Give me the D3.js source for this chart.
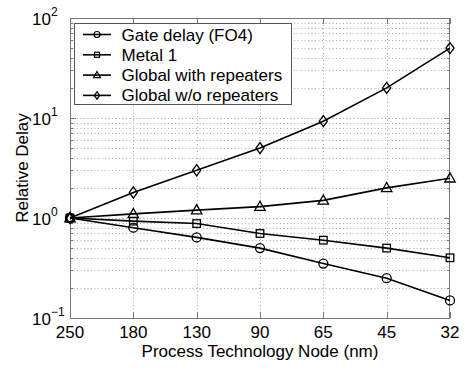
<!DOCTYPE html>
<html>
<head>
<meta charset="utf-8">
<script src="https://cdn.jsdelivr.net/npm/d3@7"></script>
<style>
body { margin: 0; background: #fff; }
text { font-family: "Liberation Sans", Arial, Helvetica, sans-serif; fill: #000; }
</style>
</head>
<body>
<svg id="chart" width="474" height="374"></svg>
<script>
// 工艺节点（横轴类别）
var nodes = ["250", "180", "130", "90", "65", "45", "32"];
// 各条曲线的相对延迟
var gateDelay = [1, 0.8, 0.64, 0.5, 0.35, 0.25, 0.15];
var metal1 = [1, 0.93, 0.88, 0.7, 0.6, 0.5, 0.4];
var globalRep = [1, 1.1, 1.2, 1.3, 1.5, 2.0, 2.5];
var globalNoRep = [1, 1.8, 3.0, 5.0, 9.3, 20, 50];
var seriesNames = ["Gate delay (FO4)", "Metal 1", "Global with repeaters", "Global w/o repeaters"];
var seriesMarks = ["circle", "square", "triangle", "diamond"];
var yTickExps = [-1, 0, 1, 2];

var series = [gateDelay, metal1, globalRep, globalNoRep];

var svg = d3.select("#chart");
var pLeft = 70, pRight = 450, pTop = 18, pBottom = 318;

var x = d3.scalePoint().domain(nodes).range([pLeft, pRight]);
var y = d3.scaleLog().domain([0.1, 100]).range([pBottom, pTop]);

// 网格线（虚点）
var minorVals = [];
for (var e = -1; e < 2; e++) {
	for (var k = 1; k <= 10; k++) {
		var v = k * Math.pow(10, e);
		if (v > 0.1 && v < 100) minorVals.push(v);
	}
}
var grid = svg.append("g").attr("stroke", "#aaa").attr("stroke-width", 1)
	.attr("stroke-dasharray", "1,2.5");
grid.selectAll(".hg").data(minorVals).enter().append("line")
	.attr("x1", pLeft).attr("x2", pRight)
	.attr("y1", function (d) { return Math.round(y(d)) + 0.5; })
	.attr("y2", function (d) { return Math.round(y(d)) + 0.5; });
grid.selectAll(".vg").data(nodes.slice(1, nodes.length - 1)).enter().append("line")
	.attr("y1", pTop).attr("y2", pBottom)
	.attr("x1", function (d) { return Math.round(x(d)) + 0.5; })
	.attr("x2", function (d) { return Math.round(x(d)) + 0.5; });

// 边框与刻度
var axisColor = "#777";
var frame = svg.append("g").attr("stroke", axisColor).attr("stroke-width", 1);
frame.append("rect").attr("x", pLeft + 0.5).attr("y", pTop + 0.5)
	.attr("width", pRight - pLeft - 1).attr("height", pBottom - pTop)
	.attr("fill", "none");
var tickY = minorVals.concat([0.1, 100]);
frame.selectAll(".ty").data(tickY).enter().append("path")
	.attr("d", function (d) {
		var len = (Math.abs(Math.log10(d) - Math.round(Math.log10(d))) < 1e-9) ? 6 : 3;
		var yy = Math.round(y(d)) + 0.5;
		return "M" + pLeft + "," + yy + "h" + len + "M" + pRight + "," + yy + "h" + (-len);
	});
frame.selectAll(".tx").data(nodes).enter().append("path")
	.attr("d", function (d) {
		var xx = Math.round(x(d)) + 0.5;
		return "M" + xx + "," + pBottom + "v-6M" + xx + "," + pTop + "v6";
	});

// 纵轴刻度标签 10^n
var yl = svg.append("g");
yTickExps.forEach(function (p) {
	var yy = y(Math.pow(10, p));
	yl.append("text").attr("x", 51).attr("y", yy + 7)
		.attr("text-anchor", "end").attr("font-size", 17).text("10");
	yl.append("text").attr("x", 51).attr("y", yy - 2)
		.attr("font-size", 12).text(String(p).replace("-", "\u2212"));
});

// 横轴刻度标签
svg.append("g").selectAll("text").data(nodes).enter().append("text")
	.attr("x", function (d) { return x(d); })
	.attr("y", 337.5)
	.attr("text-anchor", "middle").attr("font-size", 17)
	.text(function (d) { return d; });

// 坐标轴标题
svg.append("text").attr("x", 260).attr("y", 357)
	.attr("text-anchor", "middle").attr("font-size", 17)
	.text("Process Technology Node (nm)");
svg.append("text").attr("transform", "translate(28,168) rotate(-90)")
	.attr("text-anchor", "middle").attr("font-size", 17)
	.text("Relative Delay");

// 标记符号
function drawMarker(g, type, cx, cy, s) {
	if (type == "circle") {
		g.append("circle").attr("cx", cx).attr("cy", cy).attr("r", s * 0.5);
	} else if (type == "square") {
		g.append("rect").attr("x", cx - s * 0.42).attr("y", cy - s * 0.42)
			.attr("width", s * 0.84).attr("height", s * 0.84);
	} else if (type == "triangle") {
		g.append("path").attr("d", "M" + cx + "," + (cy - s * 0.6) + "L" + (cx + s * 0.58) + "," + (cy + s * 0.42)
			+ "L" + (cx - s * 0.58) + "," + (cy + s * 0.42) + "Z");
	} else {
		g.append("path").attr("d", "M" + cx + "," + (cy - s * 0.62) + "L" + (cx + s * 0.45) + "," + cy
			+ "L" + cx + "," + (cy + s * 0.62) + "L" + (cx - s * 0.45) + "," + cy + "Z");
	}
}

// 曲线
var line = d3.line()
	.x(function (d, i) { return x(nodes[i]); })
	.y(function (d) { return y(d); });
var plot = svg.append("g");
series.forEach(function (s, si) {
	plot.append("path").datum(s).attr("d", line)
		.attr("fill", "none").attr("stroke", "#000").attr("stroke-width", 1.6);
	var mg = plot.append("g").attr("fill", "none").attr("stroke", "#000").attr("stroke-width", 1.3);
	s.forEach(function (v, i) {
		drawMarker(mg, seriesMarks[si], x(nodes[i]), y(v), 9);
	});
});

// 图例
var lg = svg.append("g");
lg.append("rect").attr("x", 74.5).attr("y", 23.5).attr("width", 217).attr("height", 81)
	.attr("fill", "#fff").attr("stroke", "#555").attr("stroke-width", 1);
seriesNames.forEach(function (name, i) {
	var ly = 34.5 + i * 20.3;
	lg.append("line").attr("x1", 83).attr("x2", 111).attr("y1", ly).attr("y2", ly)
		.attr("stroke", "#000").attr("stroke-width", 1.6);
	var mg = lg.append("g").attr("fill", "none").attr("stroke", "#000").attr("stroke-width", 1.2);
	drawMarker(mg, seriesMarks[i], 97, ly, 6);
	lg.append("text").attr("x", 121.5).attr("y", ly + 6).attr("font-size", 17).text(name);
});
</script>
</body>
</html>
